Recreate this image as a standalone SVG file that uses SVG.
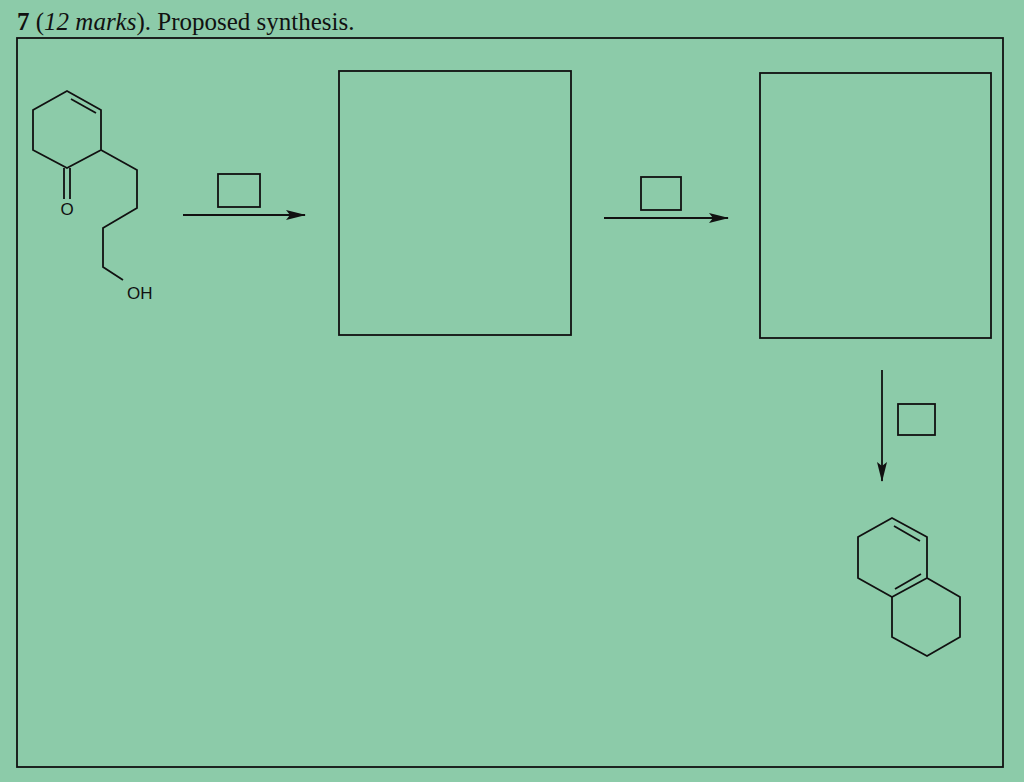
<svg xmlns="http://www.w3.org/2000/svg" width="1024" height="782" viewBox="0 0 1024 782">
<defs>
<style>
.l{fill:none;stroke:#111;stroke-width:1.8;stroke-linejoin:miter}
.b{fill:none;stroke:#111;stroke-width:1.8}
.t{font-family:"Liberation Serif",serif;font-size:25px;fill:#111}
.a{font-family:"Liberation Sans",sans-serif;font-size:17px;fill:#111}
</style>
<marker id="ah" markerWidth="20" markerHeight="10" refX="19" refY="5" orient="auto" markerUnits="userSpaceOnUse"><path d="M0,0 L20,5 L0,10 L4,5 Z" fill="#111"/></marker>
</defs>
<rect width="1024" height="782" fill="#8ccba9"/>
<text class="t" x="17" y="30"><tspan font-weight="bold">7</tspan> (<tspan font-style="italic">12 marks</tspan>).  Proposed synthesis.</text>
<rect class="b" x="17" y="38" width="986" height="729"/>
<g id="start">
<path class="l" d="M67,91 L101,110 L101,150 L67,168 L33,150 L33,110 Z"/>
<path class="l" d="M71,99 L96,113"/>
<path class="l" d="M64,168 V199 M70,168 V199"/>
<text class="a" x="67" y="215" text-anchor="middle">O</text>
<path class="l" d="M101,150 L137,170 L137,208 L103,228 L103,267 L123,280"/>
<text class="a" x="127" y="299">OH</text>
</g>
<g id="box1"><rect class="b" x="339" y="71" width="232" height="264"/></g>
<g id="box2"><rect class="b" x="760" y="73" width="231" height="265"/></g>
<g id="r1"><rect class="b" x="218" y="174" width="42" height="33"/></g>
<g id="r2"><rect class="b" x="641" y="177" width="40" height="33"/></g>
<g id="r3"><rect class="b" x="898" y="404" width="37" height="31"/></g>
<g id="connectors">
<line class="b" x1="183" y1="215" x2="305" y2="215" marker-end="url(#ah)"/>
<line class="b" x1="604" y1="218" x2="728" y2="218" marker-end="url(#ah)"/>
<line class="b" x1="882" y1="370" x2="882" y2="481" marker-end="url(#ah)"/>
</g>
<g id="product">
<path class="l" d="M892,518 L927,537 L927,578 L892,597 L858,578 L858,537 Z"/>
<path class="l" d="M927,578 L960,597 L960,637 L927,656 L892,637 L892,597"/>
<path class="l" d="M894,526 L920,541 M895,589 L921,574"/>
</g>
</svg>
